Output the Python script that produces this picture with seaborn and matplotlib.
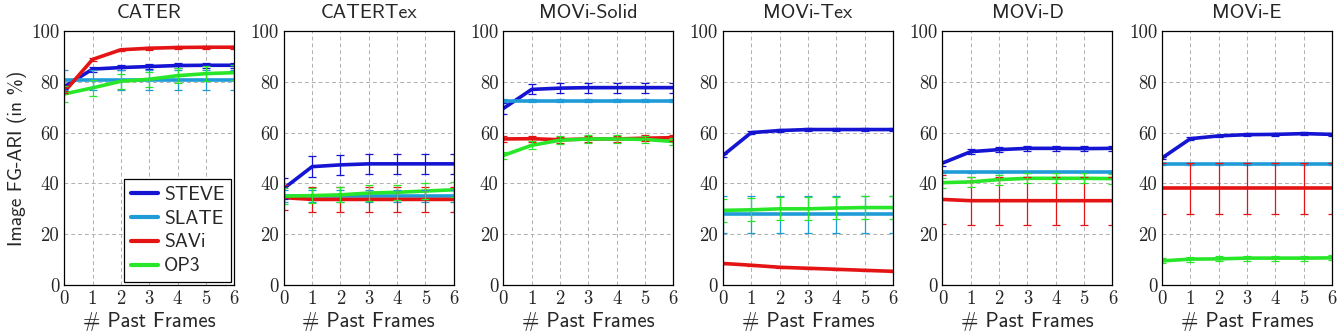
import numpy as np
import pandas as pd
import matplotlib
matplotlib.use("Agg")
import matplotlib.pyplot as plt
import seaborn as sns

# ---- data ----
frames = [0, 1, 2, 3, 4, 5, 6]
datasets = ["CATER", "CATERTex", "MOVi-Solid", "MOVi-Tex", "MOVi-D", "MOVi-E"]
models = ["STEVE", "SLATE", "SAVi", "OP3"]

steve_mean = [
    [78.0, 85.0, 85.6, 86.0, 86.4, 86.5, 86.5],
    [38.0, 46.6, 47.3, 47.7, 47.7, 47.7, 47.7],
    [69.5, 77.0, 77.5, 77.7, 77.7, 77.7, 77.7],
    [51.0, 60.0, 60.8, 61.2, 61.2, 61.2, 61.2],
    [48.0, 52.5, 53.3, 53.8, 53.8, 53.7, 53.8],
    [50.0, 57.6, 58.7, 59.2, 59.3, 59.6, 59.3],
]
steve_err = [1.0, 4.0, 2.0, 0.5, 1.0, 0.5]

slate_mean = [
    [80.6] * 7,
    [35.0] * 7,
    [72.6] * 7,
    [27.8] * 7,
    [44.6] * 7,
    [47.6] * 7,
]
slate_err = [4.0, 2.5, 0.5, 7.2, 0.4, 0.5]

savi_mean = [
    [76.0, 88.8, 92.6, 93.2, 93.5, 93.6, 93.6],
    [34.4, 33.7, 33.7, 33.7, 33.7, 33.7, 33.7],
    [57.5, 57.6, 57.2, 57.5, 57.5, 57.8, 58.0],
    [8.5, 7.8, 7.0, 6.6, 6.2, 5.8, 5.4],
    [33.7, 33.2, 33.2, 33.2, 33.2, 33.2, 33.2],
    [38.0, 38.0, 38.0, 38.0, 38.0, 38.0, 38.0],
]
savi_err = [0.5, 5.0, 1.2, 0.2, 9.5, 10.0]

op3_mean = [
    [75.2, 77.6, 80.2, 81.0, 82.4, 83.2, 83.6],
    [35.0, 35.2, 35.5, 36.2, 36.5, 37.0, 37.5],
    [51.0, 55.0, 57.0, 57.5, 57.5, 57.3, 56.5],
    [29.4, 29.6, 30.0, 30.0, 30.3, 30.5, 30.5],
    [40.3, 40.6, 41.5, 42.0, 42.0, 42.0, 41.9],
    [9.5, 10.2, 10.3, 10.6, 10.6, 10.6, 10.7],
]
op3_err = [3.0, 3.0, 1.5, 4.5, 2.0, 1.0]

palette = {"STEVE": "#1414d2", "SLATE": "#1f9bd7", "SAVi": "#e41414", "OP3": "#28e628"}
means = {"STEVE": steve_mean, "SLATE": slate_mean, "SAVi": savi_mean, "OP3": op3_mean}
errs = {"STEVE": steve_err, "SLATE": slate_err, "SAVi": savi_err, "OP3": op3_err}

# long-form table
rows = []
for d_i, ds in enumerate(datasets):
    for m in models:
        for f, v in zip(frames, means[m][d_i]):
            rows.append({"dataset": ds, "model": m, "frames": f,
                         "fgari": v, "err": errs[m][d_i]})
df = pd.DataFrame(rows)

sns.set_theme(style="whitegrid")
plt.rcParams["font.family"] = ["cmss10", "DejaVu Sans"]
plt.rcParams["axes.unicode_minus"] = False

fig, axes = plt.subplots(1, 6, figsize=(13.38, 3.33), dpi=100)
fig.subplots_adjust(left=0.048, right=0.9955, bottom=0.144, top=0.907, wspace=0.292)

for ax, ds in zip(axes, datasets):
    sub = df[df["dataset"] == ds]
    sns.lineplot(data=sub, x="frames", y="fgari", hue="model", hue_order=models,
                 palette=palette, linewidth=2.6, ax=ax, legend=(ds == "CATER"),
                 errorbar=None)
    for m in models:
        s = sub[sub["model"] == m]
        ax.errorbar(s["frames"], s["fgari"], yerr=s["err"], fmt="none",
                    ecolor=palette[m], elinewidth=0.9, capsize=3, capthick=0.9)
    ax.set_xlim(0, 6)
    ax.set_ylim(0, 100)
    ax.set_xticks(frames)
    ax.set_yticks([0, 20, 40, 60, 80, 100])
    ax.set_title(ds, fontsize=14.5, pad=9)
    ax.set_xlabel("# Past Frames", fontsize=15, labelpad=3)
    ax.set_ylabel("Image FG-ARI (in %)" if ds == "CATER" else "", fontsize=14,
                  labelpad=3)
    ax.grid(True, color="#b0b0b0", linestyle=(0, (4, 3)), linewidth=0.7)
    ax.set_facecolor("white")
    for sp in ax.spines.values():
        sp.set_edgecolor("black")
        sp.set_linewidth(0.9)
    for lab in ax.get_xticklabels() + ax.get_yticklabels():
        lab.set_fontfamily("cmr10")
        lab.set_fontsize(13.5)
    ax.tick_params(axis="both", pad=3.5, length=0)

leg = axes[0].legend(loc="lower right", fontsize=14, frameon=True, fancybox=False,
                     edgecolor="black", framealpha=1, handlelength=1.4,
                     handletextpad=0.3, borderpad=0.35, labelspacing=0.3,
                     borderaxespad=0.15)
leg.get_frame().set_linewidth(0.9)
for line in leg.get_lines():
    line.set_linewidth(3)

fig.savefig("out.png", dpi=100)
